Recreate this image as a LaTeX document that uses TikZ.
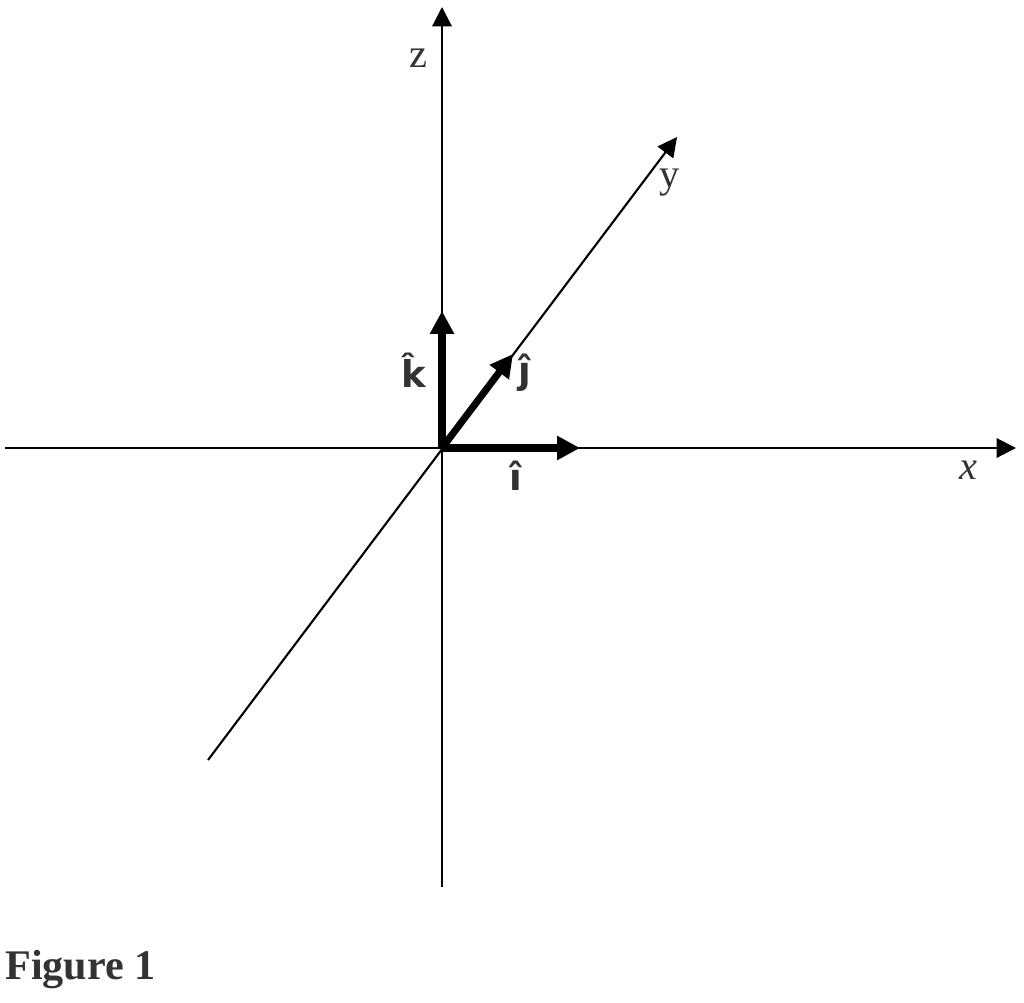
\documentclass[tikz,border=0pt]{standalone}
\usepackage{fontspec}
\setmainfont{Liberation Serif}
\newfontfamily\hatfont{DejaVu Sans}
\usetikzlibrary{arrows.meta}
\definecolor{ink}{HTML}{333333}
\begin{document}
\begin{tikzpicture}[x=0.02cm,y=-0.02cm,line join=round,
axis/.style={line width=1.2pt,-{Triangle[length=11pt,width=11pt]}},
unitvec/.style={line width=4pt,-{Triangle[length=13pt,width=13pt]}},
lbl/.style={text=ink,font=\fontsize{23}{23}\selectfont,inner sep=0pt},
hatlbl/.style={text=ink,font=\hatfont\bfseries\fontsize{21}{21}\selectfont,inner sep=0pt}]
\useasboundingbox (0,0) rectangle (1024,1003);
\path 
(442,448) coordinate (O)
(5,448) coordinate (Xm) (1016,448) coordinate (Xp)
(442,887) coordinate (Zm) (442,7) coordinate (Zp)
(208,760) coordinate (Ym) (677,137) coordinate (Yp)
(580,448) coordinate (I) (513,354) coordinate (J) (442,311) coordinate (K)
;
\draw[axis] (Xm)--(Xp);
\draw[axis] (Zm)--(Zp);
\draw[axis] (Ym)--(Yp);
\foreach\v in {I,J,K}
\draw[unitvec] (O)--(\v);
\node[lbl] (zl) at (418,58) {z};
\node[lbl] (yl) at (670,183) {y};
\node[lbl] (xl) at (968,470) {\itshape x};
\node[hatlbl] (kl) at (414,370) {k̂};
\node[hatlbl] (jl) at (525,373) {ĵ};
\node[hatlbl] (il) at (516,476) {î};
\node[text=ink,font=\bfseries\fontsize{24}{24}\selectfont,anchor=west,inner sep=0pt] (fig) at (5,970) {Figure 1};
\end{tikzpicture}
\end{document}
